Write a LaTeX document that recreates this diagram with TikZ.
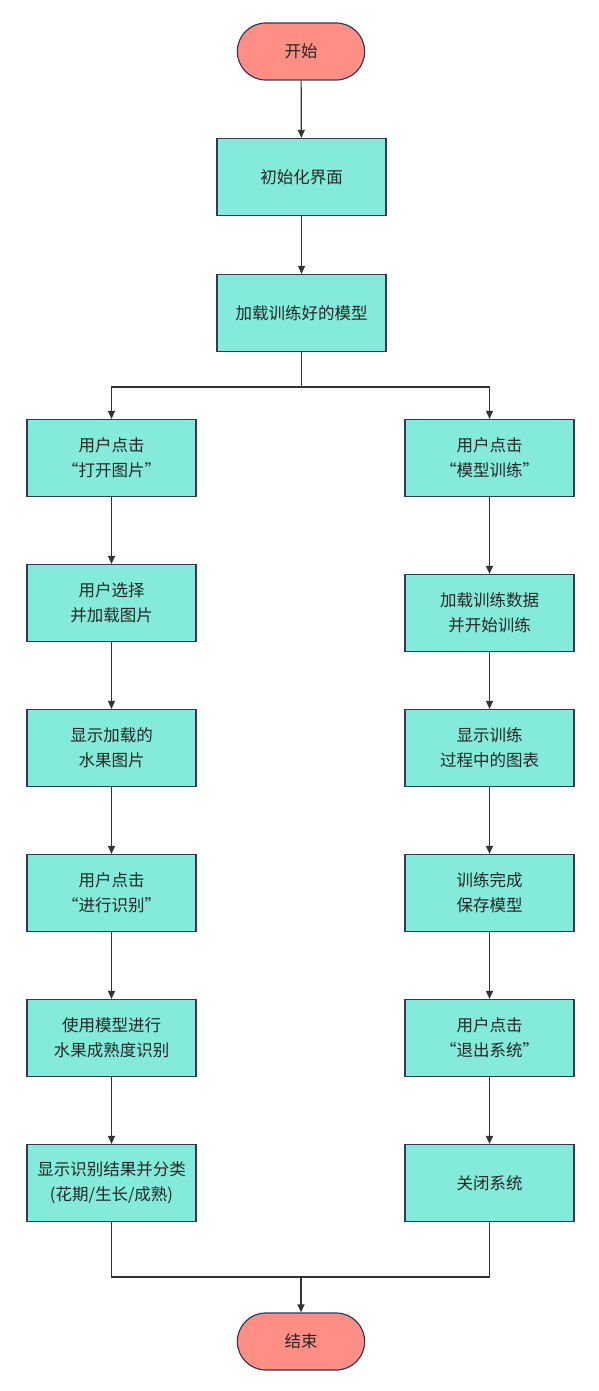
\documentclass[tikz,border=0pt]{standalone}
\usepackage{fontspec}
\setmainfont{Noto Sans CJK SC}
\usepackage{xcolor}
\usepackage{tikz}
\usetikzlibrary{arrows.meta,positioning,shapes.misc}

\definecolor{boxfill}{HTML}{84EBDB}
\definecolor{termfill}{HTML}{FF8F85}
\definecolor{edgecol}{HTML}{2E3A5C}
\definecolor{linecol}{HTML}{333333}
\definecolor{textcol}{HTML}{262626}

\tikzset{
  procbox/.style={rectangle, draw=edgecol, fill=boxfill, line width=1.2pt,
    minimum width=169pt, minimum height=77pt, align=center, text=textcol,
    font=\fontsize{16.5}{25}\selectfont},
  terminal/.style={rounded rectangle, draw=edgecol, fill=termfill, line width=1.2pt,
    minimum width=134pt, minimum height=57pt, text=textcol,
    font=\fontsize{16.5}{25}\selectfont},
  flow/.style={draw=linecol, line width=1.2pt, -{Triangle[width=7pt,length=8pt]}},
  joinline/.style={draw=linecol, line width=1.2pt}
}

\begin{document}
\begin{tikzpicture}[x=1pt, y=-1pt]
    \useasboundingbox (0,0) rectangle (599,1391);

    % Start and common part
    \node[terminal] (start) at (301,51.5) {开始};
    \node[procbox] (init) at (301.5,177) {初始化界面};
    \node[procbox] (loadmodel) at (301.5,313) {加载训练好的模型};

    % Left branch: recognition
    \node[procbox] (openimg) at (111.5,458) {用户点击\\“打开图片”};
    \node[procbox] (selimg) at (111.5,603) {用户选择\\并加载图片};
    \node[procbox] (showimg) at (111.5,748) {显示加载的\\水果图片};
    \node[procbox] (clickrec) at (111.5,893) {用户点击\\“进行识别”};
    \node[procbox] (recog) at (111.5,1038) {使用模型进行\\水果成熟度识别};
    \node[procbox] (result) at (111.5,1183) {显示识别结果并分类\\(花期/生长/成熟)};

    % Right branch: training
    \node[procbox] (clicktrain) at (489.5,458) {用户点击\\“模型训练”};
    \node[procbox] (loaddata) at (489.5,613) {加载训练数据\\并开始训练};
    \node[procbox] (showtrain) at (489.5,748) {显示训练\\过程中的图表};
    \node[procbox] (savemodel) at (489.5,893) {训练完成\\保存模型};
    \node[procbox] (clickexit) at (489.5,1038) {用户点击\\“退出系统”};
    \node[procbox] (closesys) at (489.5,1183) {关闭系统};

    % End
    \node[terminal] (stop) at (301,1341.5) {结束};

    % Split and merge points
    \coordinate (split) at (301.5,387);
    \coordinate (merge) at (301,1277);

    % Connectors
    \draw[flow] (start) -- (init);
    \draw[flow] (init) -- (loadmodel);
    \draw[joinline] (loadmodel.south) -- (split);
    \draw[flow] (split) -| (openimg.north);
    \draw[flow] (split) -| (clicktrain.north);

    \draw[flow] (openimg) -- (selimg);
    \draw[flow] (selimg) -- (showimg);
    \draw[flow] (showimg) -- (clickrec);
    \draw[flow] (clickrec) -- (recog);
    \draw[flow] (recog) -- (result);

    \draw[flow] (clicktrain) -- (loaddata);
    \draw[flow] (loaddata) -- (showtrain);
    \draw[flow] (showtrain) -- (savemodel);
    \draw[flow] (savemodel) -- (clickexit);
    \draw[flow] (clickexit) -- (closesys);

    \draw[joinline] (result.south) |- (merge);
    \draw[joinline] (closesys.south) |- (merge);
    \draw[flow] (merge) -- (stop.north);
\end{tikzpicture}
\end{document}
